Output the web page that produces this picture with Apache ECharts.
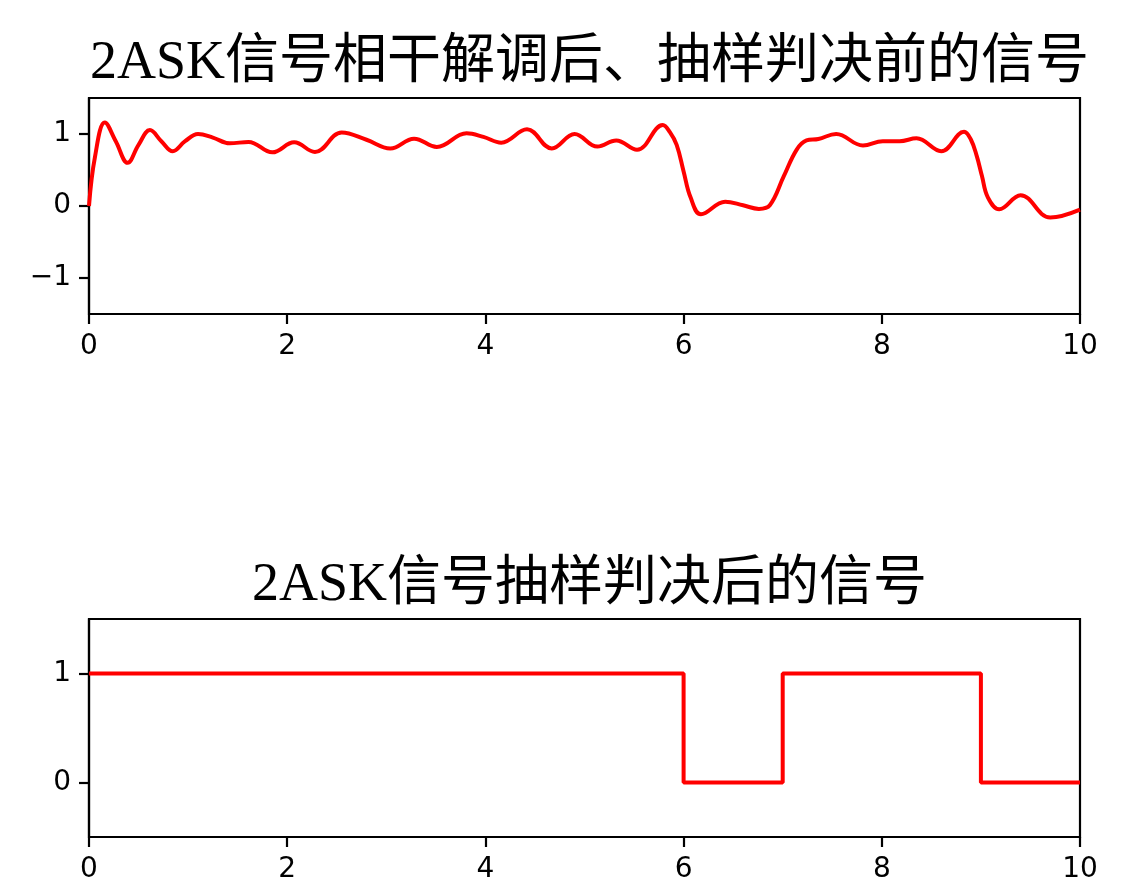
<!DOCTYPE html>
<html>
<head>
<meta charset="utf-8">
<script src="https://cdn.jsdelivr.net/npm/echarts@6/dist/echarts.min.js"></script>
<style>
html,body{margin:0;padding:0;background:#fff;}
#chart{width:1132px;height:885px;}
</style>
</head>
<body>
<div id="chart"></div>
<script>
// Titles
const titleTop = '2ASK信号相干解调后、抽样判决前的信号';
const titleBottom = '2ASK信号抽样判决后的信号';

// Top plot: demodulated signal before sampling decision (time, value)
const demodT = [0, 0.06, 0.16, 0.27, 0.39, 0.5, 0.615, 0.73, 0.845, 0.97, 1.10, 1.25, 1.42, 1.61, 1.85, 2.07, 2.28, 2.55, 2.80, 3.04, 3.28, 3.51, 3.81, 3.98, 4.16, 4.42, 4.67, 4.90, 5.13, 5.32, 5.53, 5.79, 5.86, 5.93, 6.0, 6.07, 6.175, 6.42, 6.60, 6.76, 6.87, 7.01, 7.14, 7.24, 7.36, 7.54, 7.81, 8.01, 8.18, 8.35, 8.60, 8.83, 8.90, 8.96, 9.01, 9.07, 9.185, 9.40, 9.70, 10.0];
const demodV = [0, 0.68, 1.16, 0.90, 0.60, 0.85, 1.055, 0.90, 0.76, 0.90, 1.00, 0.95, 0.87, 0.89, 0.745, 0.885, 0.75, 1.02, 0.92, 0.80, 0.935, 0.82, 1.01, 0.96, 0.88, 1.065, 0.80, 1.00, 0.825, 0.91, 0.78, 1.125, 1.03, 0.85, 0.48, 0.12, -0.115, 0.06, 0.01, -0.04, 0.01, 0.41, 0.78, 0.91, 0.93, 1.00, 0.84, 0.90, 0.90, 0.94, 0.76, 1.03, 0.92, 0.685, 0.42, 0.12, -0.045, 0.15, -0.16, -0.05];

// Bottom plot: decided symbols, one per unit interval
const symbolStart = [0, 1, 2, 3, 4, 5, 6, 7, 8, 9, 10];
const decided =     [1, 1, 1, 1, 1, 1, 0, 1, 1, 0, 0];

// Axis ticks
const xTicks = [0, 2, 4, 6, 8, 10];
const yTicksTop = [-1, 0, 1];
const yTicksBottom = [0, 1];

const topData = demodT.map((t, i) => [t, demodV[i]]);
const bottomData = symbolStart.map((t, i) => [t, decided[i]]);

const tickFont = { fontFamily: 'DejaVu Sans', fontSize: 28, color: '#000' };
const fmt = v => String(v).replace('-', '\u2212');

function xAxis(gi) {
  return {
    type: 'value', gridIndex: gi, min: 0, max: 10, interval: 2,
    axisLine: { show: true, onZero: false, lineStyle: { color: '#000', width: 2.2 } },
    axisTick: { show: true, length: 10, customValues: xTicks, lineStyle: { color: '#000', width: 2.2 } },
    axisLabel: Object.assign({ margin: 19, customValues: xTicks, formatter: fmt }, tickFont),
    splitLine: { show: false }
  };
}
function yAxis(gi, min, max, ticks) {
  return {
    type: 'value', gridIndex: gi, min: min, max: max,
    axisLine: { show: true, onZero: false, lineStyle: { color: '#000', width: 2.2 } },
    axisTick: { show: true, length: 10, customValues: ticks, lineStyle: { color: '#000', width: 2.2 } },
    axisLabel: Object.assign({ margin: 18, customValues: ticks, formatter: fmt }, tickFont),
    splitLine: { show: false }
  };
}

const titleStyle = { fontFamily: 'Liberation Serif, Noto Sans CJK SC', fontSize: 54, fontWeight: 'normal', color: '#000' };

const chart = echarts.init(document.getElementById('chart'), null, { renderer: 'canvas' });
chart.setOption({
  animation: false,
  backgroundColor: '#fff',
  title: [
    { text: titleTop, left: 584.5, top: 32, textAlign: 'center', textStyle: titleStyle },
    { text: titleBottom, left: 584.5, top: 554, textAlign: 'center', textStyle: titleStyle }
  ],
  grid: [
    { left: 89, right: 52, top: 98, height: 216, show: true, borderColor: '#000', borderWidth: 2.2, backgroundColor: 'transparent' },
    { left: 89, right: 52, top: 619, height: 218, show: true, borderColor: '#000', borderWidth: 2.2, backgroundColor: 'transparent' }
  ],
  xAxis: [xAxis(0), xAxis(1)],
  yAxis: [yAxis(0, -1.5, 1.5, yTicksTop), yAxis(1, -0.5, 1.5, yTicksBottom)],
  series: [
    { type: 'line', xAxisIndex: 0, yAxisIndex: 0, data: topData, smooth: 0.4,
      showSymbol: false, lineStyle: { color: '#ff0000', width: 4 } },
    { type: 'line', xAxisIndex: 1, yAxisIndex: 1, data: bottomData, step: 'end',
      showSymbol: false, lineStyle: { color: '#ff0000', width: 4 } }
  ]
});
</script>
</body>
</html>
